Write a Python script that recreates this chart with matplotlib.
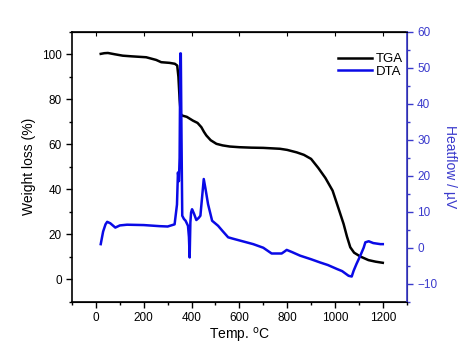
import matplotlib
matplotlib.use('agg')
import matplotlib.pyplot as plt
from matplotlib.ticker import MultipleLocator

plt.rcParams['font.family'] = ['Liberation Sans', 'DejaVu Sans']

# TGA (weight loss %) vs temperature
tga_temp = [20, 35, 50, 80, 112, 150, 210, 252, 273, 308, 330, 340, 345, 350,
            355, 360, 380, 406, 425, 441, 452, 462, 480, 504, 530, 560, 600,
            650, 700, 770, 800, 840, 870, 900, 930, 960, 990, 1010, 1036, 1050,
            1064, 1080, 1106, 1140, 1170, 1200]
tga_wt = [100.2, 100.5, 100.6, 100.0, 99.4, 99.1, 98.7, 97.5, 96.5, 96.2, 95.8,
          95.0, 90, 80, 73.5, 72.8, 72.2, 70.5, 69.5, 67.6, 65.5, 63.9, 61.8,
          60.2, 59.5, 59.0, 58.7, 58.5, 58.4, 58.0, 57.5, 56.4, 55.3, 53.5,
          49.5, 45, 39.4, 33, 24.6, 19, 14.2, 11.8, 10.1, 8.5, 7.8, 7.3]

# DTA (heat flow, uV) vs temperature
dta_temp = [20, 30, 40, 47, 60, 81, 100, 130, 200, 266, 300, 329, 339, 343, 347,
            350, 353, 355, 358, 361, 368, 375, 385, 389, 392, 395, 398, 402, 410,
            420, 430, 437, 444, 451, 458, 469, 486, 511, 529, 553, 574, 602, 658,
            700, 735, 777, 790, 798, 820, 854, 900, 938, 970, 1008, 1030, 1057,
            1070, 1078, 1090, 1106, 1120, 1127, 1141, 1160, 1190, 1200]
dta_flow = [1.0, 4.5, 6.5, 7.2, 6.8, 5.6, 6.2, 6.4, 6.3, 6.0, 5.9, 6.5, 12, 20.9,
            18.5, 25, 54, 54, 30, 8.9, 8.0, 7.5, 6.1, 3, -2.7, 7, 9.8, 10.7, 9.5,
            7.7, 8.3, 8.9, 14, 19.1, 16.5, 12.1, 7.5, 6.1, 4.7, 2.9, 2.5, 2.0,
            1.0, 0.0, -1.6, -1.6, -1.0, -0.6, -1.2, -2.2, -3.2, -4.1, -4.8, -5.9,
            -6.5, -7.8, -8.0, -6.4, -4.5, -2.2, 0, 1.5, 1.8, 1.3, 1.0, 1.0]

axis_blue = '#3a3acc'

fig, ax = plt.subplots(figsize=(4.74, 3.46), dpi=100)
fig.subplots_adjust(left=0.152, right=0.858, top=0.908, bottom=0.128)
ax2 = ax.twinx()

l1, = ax.plot(tga_temp, tga_wt, color='black', lw=1.8, label='TGA')
l2, = ax2.plot(dta_temp, dta_flow, color='#0a0ae6', lw=1.8, label='DTA')

ax.set_xlim(-100, 1300)
ax.set_ylim(-10, 110)
ax2.set_ylim(-15, 60)

ax.xaxis.set_major_locator(MultipleLocator(200))
ax.xaxis.set_minor_locator(MultipleLocator(100))
ax.yaxis.set_major_locator(MultipleLocator(20))
ax.yaxis.set_minor_locator(MultipleLocator(10))
ax2.yaxis.set_major_locator(MultipleLocator(10))
ax2.yaxis.set_minor_locator(MultipleLocator(5))

ax.tick_params(axis='both', which='major', direction='out', length=4, width=1,
               labelsize=8.5, top=False)
ax.tick_params(axis='both', which='minor', direction='out', length=2.5, width=1, top=False)
ax2.tick_params(axis='y', which='major', direction='out', length=4, width=1,
                labelsize=8.5, colors=axis_blue)
ax2.tick_params(axis='y', which='minor', direction='out', length=2.5, width=1,
                colors=axis_blue)
ax.secondary_xaxis('top').tick_params(which='both', direction='in', length=3,
                                      labeltop=False)

for s in ['left', 'bottom', 'top']:
    ax.spines[s].set_linewidth(1.2)
ax2.spines['right'].set_color(axis_blue)
ax2.spines['right'].set_linewidth(1.2)
ax2.spines['left'].set_visible(False)

ax.set_xlabel('Temp. $^{\\mathrm{o}}$C', fontsize=10, labelpad=1)
ax.set_ylabel('Weight loss (%)', fontsize=10)
ax2.set_ylabel('Heatflow / \u00b5V', fontsize=10, color=axis_blue,
               rotation=270, labelpad=14)

ax2.legend([l1, l2], ['TGA', 'DTA'], loc='upper right', frameon=False,
           fontsize=9.5, bbox_to_anchor=(1.025, 0.965), handlelength=2.6,
           handletextpad=0.3, labelspacing=0.0)

plt.savefig('out.png')
